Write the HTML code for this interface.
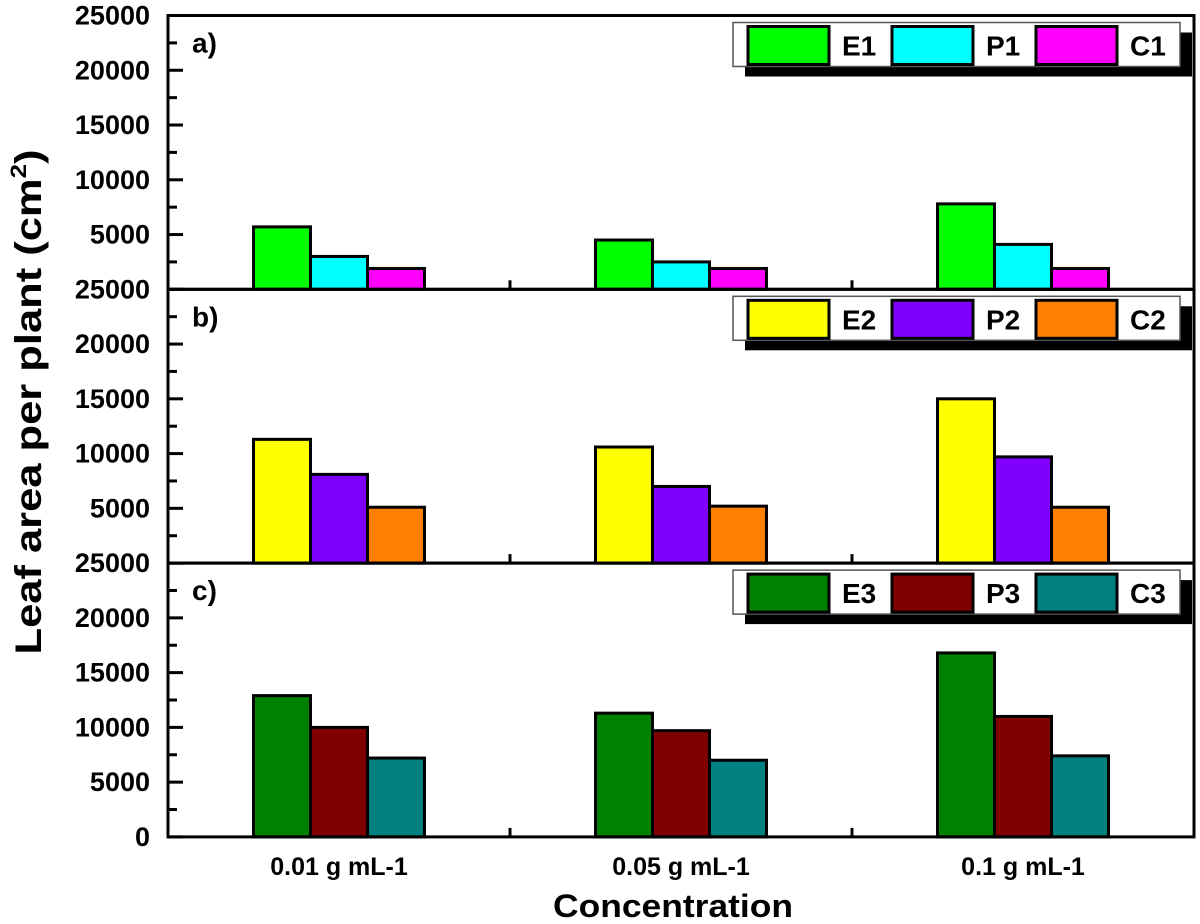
<!DOCTYPE html>
<html><head><meta charset="utf-8"><style>
html,body{margin:0;padding:0;background:#fff;}
svg{display:block;font-family:"Liberation Sans",Arial,sans-serif;font-weight:bold;}
</style></head><body>
<svg id="chart" width="1200" height="924" viewBox="0 0 1200 924" xmlns="http://www.w3.org/2000/svg"></svg>
<script>
const categories = ["0.01 g mL-1", "0.05 g  mL-1", "0.1 g mL-1"];
const panelLabels = ["a)", "b)", "c)"];
const seriesNames = [["E1","P1","C1"],["E2","P2","C2"],["E3","P3","C3"]];
const seriesColors = [["#00ff00","#00ffff","#ff00ff"],["#ffff00","#8000ff","#ff8000"],["#008000","#800000","#008080"]];
const panelA = [[5700,3000,1900],[4500,2500,1900],[7800,4100,1900]];
const panelB = [[11300,8100,5100],[10600,7000,5200],[15000,9700,5100]];
const panelC = [[12900,10000,7200],[11300,9700,7000],[16800,11000,7400]];
const panels = [panelA, panelB, panelC];
const yTicks = [0,5000,10000,15000,20000,25000];
const yMax = 25000;

const svg = document.getElementById('chart');
const NS = "http://www.w3.org/2000/svg";
function mk(tag, attrs, parent){const e=document.createElementNS(NS,tag);for(const k in attrs)e.setAttribute(k,attrs[k]);(parent||svg).appendChild(e);return e;}

const left=168, right=1194, top0=15.5, ph=273.8;
const step=(right-left)/3;
const barW=57;
function xC(i){return left+step*(i+0.5);}
function yS(p,v){return top0+ph*(p+1)-v/yMax*ph;}

panels.forEach((data,p)=>{
  const g=mk('g',{});
  
  
  const base=yS(p,0);
  data.forEach((grp,ci)=>{
    grp.forEach((v,si)=>{
      const x=xC(ci)-1.5*barW+si*barW;
      const r=mk('rect',{x:x,y:yS(p,v),width:barW,height:base-yS(p,v),fill:seriesColors[p][si],stroke:'#000','stroke-width':3},g);
      
      
    });
  });
  const fr=mk('rect',{x:left,y:yS(p,yMax),width:right-left,height:ph,fill:'none',stroke:'#000','stroke-width':3},g);
  
  
  for(let v=0;v<=yMax;v+=2500){
    const major=v%5000===0;
    mk('line',{x1:left,x2:left+(major?15:9),y1:yS(p,v),y2:yS(p,v),stroke:'#000','stroke-width':3},g);
  }
  yTicks.forEach(v=>{
    if(p<2 && v===0) return;
    const t=mk('text',{x:150,y:yS(p,v)+9,'text-anchor':'end','font-size':27},g);
    t.textContent=v;
    
    
  });
  [1,2].forEach(k=>{mk('line',{x1:left+step*k,x2:left+step*k,y1:base,y2:base-9,stroke:'#000','stroke-width':3},g);});
  const pl=mk('text',{x:192,y:yS(p,yMax)+37,'font-size':28},g);
  pl.textContent=panelLabels[p];
  
  
  const ly=yS(p,yMax)+7, lx=733, lw=447, lh=44;
  const lg=mk('g',{},g);
  
  
  mk('rect',{x:lx+12,y:ly+10,width:lw,height:lh,fill:'#000'},lg);
  mk('rect',{x:lx,y:ly,width:lw,height:lh,fill:'#fff',stroke:'#555','stroke-width':1.5},lg);
  seriesNames[p].forEach((n,si)=>{
    const sx=lx+15+si*144;
    const sw=mk('rect',{x:sx,y:ly+4,width:81,height:38,fill:seriesColors[p][si],stroke:'#000','stroke-width':3},lg);
    
    
    const t=mk('text',{x:sx+94,y:ly+33,'font-size':28},lg);
    t.textContent=n;
    
    
  });
});
categories.forEach((c,i)=>{
  const t=mk('text',{x:xC(i),y:875,'text-anchor':'middle','font-size':25,'xml:space':'preserve'});
  t.textContent=c;
  
  
});
const xt=mk('text',{x:673,y:917,'text-anchor':'middle','font-size':32,textLength:240,lengthAdjust:'spacingAndGlyphs'});
xt.textContent='Concentration';


const yt=mk('text',{x:0,y:0,'text-anchor':'middle','font-size':37,textLength:505,lengthAdjust:'spacingAndGlyphs',transform:'translate(41,402) rotate(-90)'});
yt.innerHTML='Leaf area per plant (cm<tspan dy="-15" font-size="22">2</tspan><tspan dy="15">)</tspan>';


</script>
</body></html>
